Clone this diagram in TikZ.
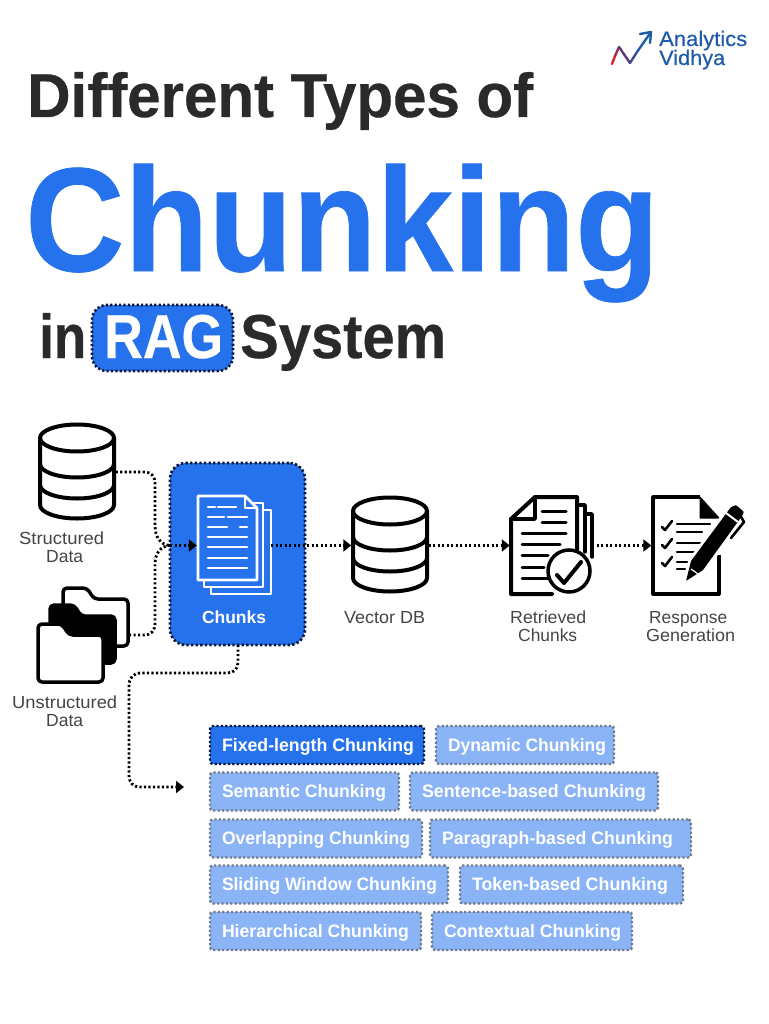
\documentclass[tikz,border=0pt]{standalone}
\usepackage{fontspec}
\usepackage{graphicx}
\setmainfont{Liberation Sans}
\newfontfamily\logofont[FakeBold=0.4]{Liberation Sans}
\newfontfamily\heavyfont[FakeBold=0.5]{Liberation Sans Bold}
\usetikzlibrary{arrows.meta}
\definecolor{titledark}{HTML}{2B2A2A}
\definecolor{cblue}{HTML}{2672ED}
\definecolor{pillblue}{HTML}{8AB4F5}
\definecolor{pillgray}{HTML}{6F7A8C}
\definecolor{navy}{HTML}{0B1A3C}
\definecolor{labelgray}{HTML}{454545}
\definecolor{logoblue}{HTML}{1E5BA8}
\definecolor{logored}{HTML}{D81F32}
\definecolor{logopurple}{HTML}{5A3A78}
\newcommand\fw[2]{\resizebox{#1pt}{\height}{#2}}
\tikzset{
  txt/.style={inner sep=0pt,anchor=base west},
  lab/.style={txt,text=labelgray,font=\fontsize{17.5pt}{18pt}\selectfont},
  icon/.style={inner sep=0pt,draw=none},
  dotline/.style={line width=2.8pt,dash pattern=on 2.2pt off 2.3pt,color=black},
  arrowtip/.style={-{Triangle[length=8pt,width=12pt]}},
  pill/.style={rounded corners=3pt,inner sep=0pt,fill=pillblue,draw=pillgray,line width=2.4pt,dash pattern=on 2.2pt off 2.2pt,
     text=white,font=\bfseries\fontsize{18pt}{20pt}\selectfont},
  pillhot/.style={pill,fill=cblue,draw=navy},
  thickblack/.style={line width=4pt,line join=round,line cap=round},
  wline/.style={line width=2.8pt,white,line cap=round},
  kline/.style={line width=3pt,black,line cap=round},
  mline/.style={line width=2.4pt,black,line cap=round},
  logoline/.style={line width=2.4pt,line cap=round,line join=round},
}
% name, x1, x2, y centre, height, text width, text, style
\newcommand\pillbox[8]{%
  \pgfmathsetmacro\pw{#3-#2}\pgfmathsetmacro\pc{(#3+#2)/2}%
  \node[#8,minimum width=\pw pt,minimum height=#5 pt] (#1) at (\pc,#4)
    {\makebox[\pw pt][l]{\hspace{12pt}\raisebox{-6pt}[0pt][0pt]{\fw{#6}{#7}}}};}
\newcommand\dbicon[2]{%
  \begin{scope}[shift={(#1,#2)},thickblack]
    \draw (-37,-34) -- (-37,33) arc[start angle=180,end angle=360,x radius=37pt,y radius=13.5pt] -- (37,-34);
    \draw (0,-34) ellipse[x radius=37pt,y radius=13.5pt];
    \draw (-37,-8) arc[start angle=180,end angle=360,x radius=37pt,y radius=13.5pt];
    \draw (-37,13) arc[start angle=180,end angle=360,x radius=37pt,y radius=13.5pt];
  \end{scope}}
\newcommand\foldershape[3]{%
  \draw[shift={(#1,#2)},line width=3.5pt,line join=round,rounded corners=4pt,draw=black,fill=#3]
    (0,58) -- (0,0) -- (24,0) -- (31,11) -- (65,11) -- (65,58) -- cycle;}
\begin{document}
\begin{tikzpicture}[x=1pt,y=-1pt]
\fill[white] (0,0) rectangle (768,1024);
\useasboundingbox (0,0) rectangle (768,1024);

% logo
\draw[logoline,logored] (612,64) -- (615,56);
\draw[logoline,logored!50!logopurple] (615,56) -- (619,47);
\draw[logoline,logopurple] (619,47) -- (630,63);
\draw[logoline,logopurple!50!logoblue] (630,63) -- (637,52);
\draw[logoline,logoblue] (637,52) -- (651,32);
\draw[logoline,logoblue] (640,34) -- (651,32) -- (650,43);
\node[txt,text=logoblue,font=\logofont\fontsize{21pt}{22pt}\selectfont] (logoa) at (659,46) {\fw{88}{Analytics}};
\node[txt,text=logoblue,font=\logofont\fontsize{21pt}{22pt}\selectfont] (logob) at (659,65) {\fw{66}{Vidhya}};

% titles
\node[txt,text=titledark,font=\heavyfont\fontsize{62pt}{64pt}\selectfont] (t1) at (27,117) {\fw{506}{Different Types of}};
\node[txt,text=cblue,font=\heavyfont\fontsize{148pt}{150pt}\selectfont] (t2) at (25,271) {\fw{634}{Chunking}};
\node[txt,text=titledark,font=\heavyfont\fontsize{62pt}{64pt}\selectfont] (t3) at (39,358) {\fw{47}{in}};
\node[rounded corners=15pt,fill=cblue,draw=navy,line width=2.6pt,dash pattern=on 2.2pt off 2.2pt,minimum width=141pt,minimum height=66pt,inner sep=0pt] (ragbox) at (162.5,338) {};
\node[txt,text=white,font=\heavyfont\fontsize{62pt}{64pt}\selectfont] (rag) at (104,358) {\fw{119}{RAG}};
\node[txt,text=titledark,font=\heavyfont\fontsize{62pt}{64pt}\selectfont] (t4) at (240,358) {\fw{206}{System}};

% chunks box
\node[rounded corners=16pt,fill=cblue,draw=navy,line width=2.8pt,dash pattern=on 2.3pt off 2.3pt,minimum width=135pt,minimum height=182pt,inner sep=0pt] (chunks) at (237.5,554) {};
\node[inner sep=0pt,text=white,font=\bfseries\fontsize{17.5pt}{18pt}\selectfont] (chunkslab) at (234,617) {\fw{64}{Chunks}};

% docs icon
\node[icon,minimum width=74pt,minimum height=98pt] (docs) at (234,545.5) {};
\begin{scope}[white,line width=2.6pt,line join=round]
  \draw[fill=cblue] (211,510) -- (271,510) -- (271,594) -- (211,594) -- cycle;
  \draw[fill=cblue] (204,503) -- (263,503) -- (263,587) -- (204,587) -- cycle;
  \draw[fill=cblue] (198,496) -- (245,496) -- (257,508) -- (257,580) -- (198,580) -- cycle;
  \draw (245,496) -- (245,508) -- (257,508);
\end{scope}
\foreach \a/\b/\yy in {208/215/507,218/236/507,208/224/517,228/247/517,208/227/527,240/247/527,208/247/537,208/247/547,208/247/558,208/247/568}
  \draw[wline] (\a,\yy) -- (\b,\yy);

% databases
\node[icon,minimum width=77pt,minimum height=98pt] (sdb) at (77,472) {};
\dbicon{77}{472}
\node[icon,minimum width=77pt,minimum height=98pt] (vdb) at (390,545.5) {};
\dbicon{390}{545}

% folders
\node[icon,minimum width=91pt,minimum height=96pt] (folders) at (82.5,635) {};
\foldershape{63}{588}{white}
\foldershape{50}{605}{black}
\foldershape{38}{624}{white}
\coordinate (folderout) at (129,635);

% retrieved icon
\node[icon,minimum width=82pt,minimum height=98pt] (retr) at (551,545.5) {};
\begin{scope}[thickblack]
  \draw (552,594) -- (511,594) -- (511,519) -- (535,497) -- (577,497) -- (577,552);
  \draw[line width=3.4pt] (511,519) -- (535,519) -- (535,497);
  \draw[line width=3.4pt] (577,505) -- (585,505) -- (585,552);
  \draw[line width=3.4pt] (585,514) -- (592,514) -- (592,557);
\end{scope}
\foreach \a/\b/\yy in {542/566/511,542/566/522,522/566/533,522/560/544,522/548/555,522/544/567,522/548/578}
  \draw[kline] (\a,\yy) -- (\b,\yy);
\draw[line width=3.5pt,fill=white] (569,571) circle[radius=21pt];
\draw[line width=4pt,line cap=round,line join=round] (557,575) -- (564,583) -- (581,562);

% response icon
\node[icon,minimum width=68pt,minimum height=98pt] (resp) at (685.5,545.5) {};
\draw[line width=3.2pt,line join=round] (700,497) -- (653,497) -- (653,594) -- (719,594) -- (719,555);
\fill[line join=round,draw=black,line width=1pt] (700,497) -- (719,518) -- (700,518) -- cycle;
\foreach \yy in {527,545,563}
  \draw[line width=2.6pt,line cap=round,line join=round] (662,\yy) -- (665,\yy+3) -- (672,\yy-6);
\foreach \a/\b/\yy in {677/710/524,677/702/532,677/705/543,677/695/552,677/690/562,677/685/569}
  \draw[mline] (\a,\yy) -- (\b,\yy);
\draw[white,fill=white,line width=6pt,line join=round] (687,580) -- (691,561) -- (731,507) -- (743,516) -- (703,570) -- cycle;
\fill[black,rounded corners=1pt] (686,581) -- (691,561) -- (731,507) -- (736,505) -- (744,512) -- (742,516) -- (703,570) -- cycle;
\draw[white,line width=2pt] (726,513) -- (738,522);
\draw[white,line width=1.2pt] (691,569) -- (698,574);
\draw[line width=2.6pt,line cap=round,line join=round] (740,515) -- (744,522) -- (731,538);

% connectors
\coordinate (merge) at (170,545.5);
\draw[dotline] (sdb.east) -- (144,472) .. controls (151,472) and (155,476) .. (155,484) -- (155,526) .. controls (155,536) and (160,545) .. (merge);
\draw[dotline] (folderout) -- (144,635) .. controls (151,635) and (155,631) .. (155,623) -- (155,564) .. controls (155,554) and (160,546) .. (merge);
\draw[dotline,arrowtip] (merge) -- (docs.west);
\draw[dotline,arrowtip] (docs.east) -- (vdb.west);
\draw[dotline,arrowtip] (vdb.east) -- (retr.west);
\draw[dotline,arrowtip] (retr.east) -- (resp.west);
\coordinate (chunkout) at (238,645);
\coordinate (listin) at (184,787);
\draw[dotline,arrowtip] (chunkout) -- (238,662) .. controls (238,669) and (234,673) .. (227,673) -- (141,673) .. controls (133,673) and (129,678) .. (129,686) -- (129,775) .. controls (129,783) and (133,787) .. (141,787) -- (listin);

% labels
\node[lab] (l1a) at (19,544) {\fw{85}{Structured}};
\node[lab] (l1b) at (46,562) {\fw{37}{Data}};
\node[lab] (l2a) at (12,708) {\fw{105}{Unstructured}};
\node[lab] (l2b) at (46,726) {\fw{37}{Data}};
\node[lab] (l3) at (344,623) {\fw{81}{Vector DB}};
\node[lab] (l4a) at (510,623) {\fw{76}{Retrieved}};
\node[lab] (l4b) at (518,641) {\fw{59}{Chunks}};
\node[lab] (l5a) at (649,623) {\fw{78}{Response}};
\node[lab] (l5b) at (646,641) {\fw{89}{Generation}};

% chunking types
\pillbox{p1}{210}{424}{745}{38}{192}{Fixed-length Chunking}{pillhot}
\pillbox{p2}{436}{614}{745}{38}{158}{Dynamic Chunking}{pill}
\pillbox{p3}{210}{399}{791.5}{38}{164}{Semantic Chunking}{pill}
\pillbox{p4}{410}{658}{791.5}{38}{224}{Sentence-based Chunking}{pill}
\pillbox{p5}{210}{422}{838.5}{38}{188}{Overlapping Chunking}{pill}
\pillbox{p6}{430}{691}{838.5}{38}{231}{Paragraph-based Chunking}{pill}
\pillbox{p7}{210}{448}{884.5}{38}{215}{Sliding Window Chunking}{pill}
\pillbox{p8}{460}{683}{884.5}{38}{196}{Token-based Chunking}{pill}
\pillbox{p9}{210}{421}{931}{38}{187}{Hierarchical Chunking}{pill}
\pillbox{p10}{432}{632}{931}{38}{177}{Contextual Chunking}{pill}
\end{tikzpicture}
\end{document}
